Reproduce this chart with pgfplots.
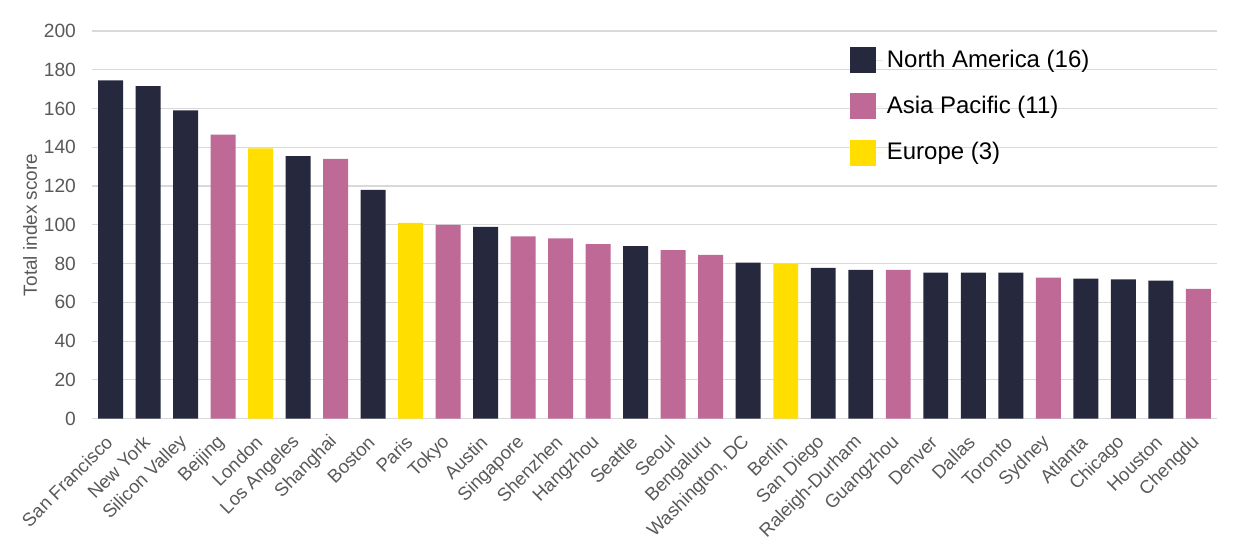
\documentclass[border=0pt]{standalone}
\usepackage{pgfplots}
\pgfplotsset{compat=1.18}
\usepackage{fontspec}
\setmainfont{Liberation Sans}
\definecolor{na}{RGB}{38,41,61}
\definecolor{ap}{RGB}{191,105,151}
\definecolor{eu}{RGB}{255,222,0}
\definecolor{tickc}{RGB}{89,89,89}
\definecolor{gridc}{RGB}{217,217,217}
\begin{document}
\begin{tikzpicture}
\begin{axis}[name=ax, width=563pt, height=194pt, scale only axis,
 ymin=0, ymax=200, ytick={0,20,...,200}, xmin=-0.5, xmax=29.5,
 xtick={0,...,29},
 xticklabels={San Francisco,New York,Silicon Valley,Beijing,London,Los Angeles,Shanghai,Boston,Paris,Tokyo,Austin,Singapore,Shenzhen,Hangzhou,Seattle,Seoul,Bengaluru,{Washington, DC},Berlin,San Diego,Raleigh-Durham,Guangzhou,Denver,Dallas,Toronto,Sydney,Atlanta,Chicago,Houston,Chengdu},
 x tick label style={yshift=-9.5pt, rotate=45, anchor=east, font=\fontsize{9.3}{11}\selectfont, text=tickc, inner sep=1pt},
 y tick label style={font=\fontsize{9.6}{11}\selectfont, text=tickc, xshift=-4.5pt},
 ymajorgrids, grid style={gridc, line width=0.6pt},
 axis line style={draw=none}, major tick length=0pt,
 ybar, bar width=12.5pt,
 /pgf/number format/assume math mode=true,
 ylabel={Total index score},
 ylabel style={font=\fontsize{9.5}{11}\selectfont, text=tickc, at={(axis description cs:-0.055,0.5)}, anchor=center},
 legend style={at={(0.668,0.973)}, anchor=north west, draw=none, fill=none, font=\fontsize{12}{14}\selectfont, row sep=9pt, legend cell align=left},
 legend image code/.code={\fill[#1] (0pt,-6.5pt) rectangle (13pt,6.5pt); \path (0pt,0pt) -- (16.5pt,0pt);},
]
\addplot[fill=na, draw=none, bar shift=0pt] coordinates {(0,174.5) (1,171.5) (2,159) (5,135.5) (7,118) (10,99) (14,89) (17,80.5) (19,77.8) (20,76.8) (22,75.3) (23,75.3) (24,75.3) (26,72.3) (27,71.8) (28,71.2)};
\addlegendentry{North America (16)}
\addplot[fill=ap, draw=none, bar shift=0pt] coordinates {(3,146.5) (6,134) (9,100) (11,94) (12,93) (13,90) (15,87) (16,84.5) (21,76.8) (25,72.8) (29,67)};
\addlegendentry{Asia Pacific (11)}
\addplot[fill=eu, draw=none, bar shift=0pt] coordinates {(4,139.5) (8,101) (18,80)};
\addlegendentry{Europe (3)}
\end{axis}
\pgfresetboundingbox
\path ([xshift=-46pt,yshift=-66.5pt]ax.south west) rectangle ([xshift=8pt,yshift=15.5pt]ax.north east);
\end{tikzpicture}
\end{document}
